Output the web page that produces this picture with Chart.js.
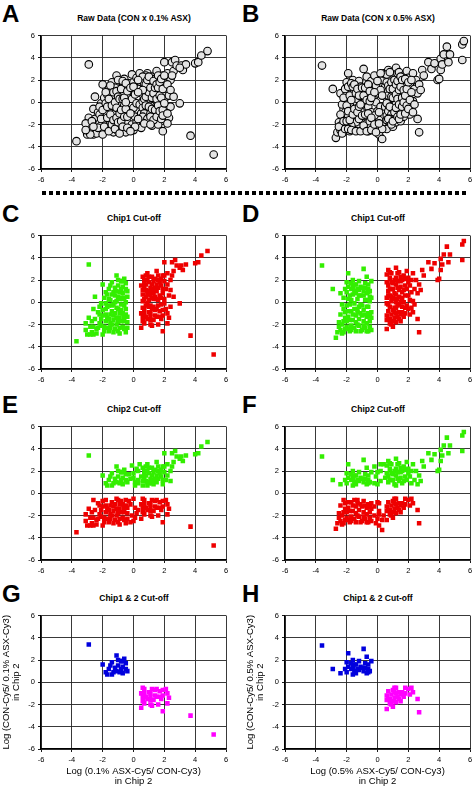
<!DOCTYPE html>
<html><head><meta charset="utf-8">
<script src="https://cdn.jsdelivr.net/npm/chart.js@4"></script>
<style>
body{margin:0;background:#fff;width:474px;height:787px;position:relative;overflow:hidden;font-family:"Liberation Sans",Arial,sans-serif}
.p{position:absolute}
.lt{position:absolute;font-weight:bold;font-size:24px;line-height:24px}
.tt{position:absolute;font-weight:bold;font-size:8.5px;width:200px;text-align:center}
.dots{position:absolute;left:42px;top:191px;width:425px;height:4px;background:repeating-linear-gradient(90deg,#000 0 4px,transparent 4px 7px)}
</style></head><body>
<div class="dots"></div>
<script>
// Panel A dataset (CON x 0.1% ASX), [x, y] pairs
const rawA = [
[-3.0,-2.9],[-2.9,-1.4],[-2.8,-2.2],[-3.1,-1.9],[-2.7,-2.7],
[-2.6,-0.6],[-2.5,-1.5],[-2.4,-2.4],[-2.6,-2.9],[-2.3,-0.9],[-2.5,0.5],[-2.2,-1.9],[-2.4,-2.8],
[-2.1,-0.1],[-2.0,-1.2],[-1.9,-2.6],[-2.0,1.6],[-1.8,-0.6],[-2.1,-2.1],[-1.9,0.4],[-1.8,-1.7],[-2.0,-2.9],
[-1.6,1.2],[-1.5,0.2],[-1.4,-0.8],[-1.6,-1.5],[-1.5,-2.3],[-1.4,1.8],[-1.3,-2.7],[-1.6,-0.3],[-1.4,0.7],[-1.3,-1.2],[-1.5,-1.9],
[-1.1,2.4],[-1.0,1.5],[-0.9,0.9],[-1.1,0.1],[-1.0,-0.6],[-0.9,-1.4],[-1.1,-2.0],[-1.0,-2.6],[-0.8,1.9],[-0.8,-0.2],[-1.2,-1.0],[-0.9,-2.3],
[-1.2,0.6],[-0.7,-1.0],[-1.3,-0.2],[-0.8,0.4],[-1.7,0.7],[-1.8,-1.1],[-1.2,1.3],[-0.7,1.4],[-0.6,-1.7],[-1.7,-2.3],[-2.2,-1.1],[-2.7,-1.7],
[-0.6,2.1],[-0.5,1.2],[-0.4,0.5],[-0.6,-0.3],[-0.5,-1.1],[-0.4,-1.8],[-0.6,-2.4],[-0.3,1.7],[-0.3,-0.7],[-0.5,-2.7],[-0.7,0.8],
[-0.1,2.5],[0.0,1.8],[0.1,1.0],[-0.1,0.3],[0.0,-0.5],[0.1,-1.3],[-0.1,-2.0],[0.0,-2.5],[0.2,2.2],[0.2,-0.1],[0.2,-1.8],
[0.4,2.6],[0.5,1.5],[0.6,0.7],[0.4,-0.2],[0.5,-1.0],[0.6,-1.7],[0.5,-2.3],[0.7,2.0],[0.7,-0.6],[0.3,1.2],[0.8,1.1],[0.8,-1.3],
[0.9,2.6],[1.0,1.8],[1.1,0.6],[0.9,-0.1],[1.0,-0.9],[1.1,-1.6],[1.2,-2.1],[1.2,2.3],[1.3,1.2],[1.3,-0.4],[1.0,0.2],[1.4,-1.2],
[0.6,0.1],[0.7,1.4],[0.9,0.7],[1.2,1.6],[1.1,-0.3],[0.6,-0.5],[1.2,0.9],[0.8,2.4],[1.4,2.1],[1.3,0.3],[0.7,-1.0],[1.1,-1.0],
[1.5,2.8],[1.6,2.0],[1.5,1.0],[1.6,0.2],[1.5,-0.6],[1.7,-1.3],[1.6,-2.0],[1.8,1.5],[1.8,-0.2],[1.4,0.5],[1.9,2.4],[1.9,0.8],
[2.0,3.6],[2.0,1.9],[2.1,1.2],[2.0,0.3],[2.1,-0.6],[1.9,-2.6],[2.2,2.6],[2.3,-1.4],[2.2,-1.9],[2.4,-0.4],[2.3,0.6],[2.4,2.0],
[2.5,3.6],[2.6,2.8],[2.7,3.8],[2.6,0.5],[2.8,3.3],[3.0,-0.1],[3.1,3.3],[3.2,2.9],[3.4,3.4],[3.0,3.1],
[-2.9,3.4],[-3.7,-3.5],[3.7,-3.0],[4.0,3.5],[4.2,3.6],[4.4,4.2],[4.8,4.6],[5.2,-4.7],
[-2.3,-2.3],[-2.2,-0.4],[-2.1,-1.5],[-2.0,-0.7],[-1.9,-2.2],[-1.8,-0.1],[-1.8,0.9],[-1.7,-1.4],[-1.7,-0.4],[-1.6,-2.6],[-1.6,0.3],
[-1.5,-1.1],[-1.5,1.5],[-1.4,-2.0],[-1.4,-0.3],[-1.3,0.9],[-1.3,-1.6],[-1.2,-2.4],[-1.2,0.0],[-1.1,-0.5],[-1.1,-1.4],[-1.1,1.0],
[-1.0,0.5],[-1.0,-1.8],[-1.0,2.0],[-0.9,-1.0],[-0.9,0.3],[-0.9,-2.8],[-0.8,-1.7],[-0.8,1.2],[-0.8,-0.7],[-0.7,-2.2],[-0.7,0.3],
[-0.7,1.9],[-0.6,-1.3],[-0.6,0.4],[-0.5,1.7],[-0.5,-0.6],[-0.5,0.0],[-0.4,-2.3],[-0.4,1.0],[-0.4,-1.3],
[0.6,2.3],[0.6,-1.3],[0.7,0.3],[0.7,1.7],[0.8,-0.3],[0.8,0.5],[0.8,1.6],[0.9,-1.5],[0.9,1.0],[0.9,2.0],[1.0,-0.4],[1.0,0.9],
[1.0,2.3],[1.1,1.3],[1.1,-1.3],[1.2,-0.6],[1.2,0.4],[1.3,-1.6],[1.3,0.8],[1.3,1.9],[1.4,-0.7],[1.4,1.3],[1.5,-1.3],[1.5,0.3],
[1.5,1.6],[1.6,-0.3],[1.6,1.3],[1.6,2.4],[1.7,-0.8],[1.7,0.6],[1.7,1.8],[1.8,-1.5],[1.8,0.4],[1.8,2.1],[1.9,-0.7],[1.9,1.2],
[1.9,-1.2],[2.0,2.4],[2.0,-0.1],[0.6,1.1],[0.7,-1.9],[1.1,-2.0],
[-0.2,1.3],[0.1,0.7],[0.3,-1.5],[0.0,1.4],[-0.2,-1.0],[0.3,2.0],[0.1,-2.2],[0.3,0.9],[-0.2,-2.6],[2.2,1.6],[2.4,1.1],[2.5,2.4],
[2.2,-1.0],[-2.6,-2.2],[-2.8,-2.9],[-3.1,-2.5]
];
// Panel B dataset (CON x 0.5% ASX)
const rawB = [
[-2.7,-3.2],[-2.6,-2.7],[-2.5,-1.8],[-2.4,-2.5],
[-2.2,-0.6],[-2.1,-1.4],[-2.0,-2.2],[-2.2,-2.7],[-1.9,2.6],[-2.0,1.8],[-1.9,0.3],[-2.3,-2.0],[-2.4,0.8],[-2.0,0.9],[-2.1,-0.9],
[-1.7,1.2],[-1.6,0.7],[-1.5,-0.1],[-1.7,-0.8],[-1.6,-1.6],[-1.5,-2.3],[-1.8,-2.6],[-1.4,1.6],[-1.4,-1.2],[-1.3,0.3],[-1.6,2.0],[-1.3,-2.0],
[-1.2,1.1],[-1.1,0.6],[-1.0,-0.3],[-1.1,-1.0],[-0.9,-1.7],[-1.0,-2.5],[-0.9,3.0],[-0.8,1.7],[-1.2,1.9],[-0.8,0.2],[-0.9,-0.7],[-1.2,-2.1],[-0.8,-2.3],
[-1.8,-0.2],[-1.3,-0.6],[-0.7,-1.3],[-1.1,1.4],[-0.6,0.9],[-1.4,-1.8],[-1.9,-1.3],[-0.9,1.0],[-1.5,1.0],[-1.2,-1.5],[-0.7,-0.4],[-1.7,-2.1],
[-0.7,2.3],[-0.6,1.2],[-0.5,0.5],[-0.6,-0.4],[-0.5,-1.2],[-0.7,-1.9],[-0.6,-2.6],[-0.4,1.9],[-0.4,-0.9],[-0.5,-2.2],[-0.7,0.8],
[-0.2,2.4],[-0.1,1.5],[0.0,0.8],[-0.1,0.0],[0.0,-0.8],[0.1,-1.6],[0.0,-2.3],[0.1,-2.9],[0.2,2.0],[0.2,-0.4],[-0.2,-1.2],[0.3,-3.3],
[0.4,2.6],[0.5,1.4],[0.6,0.4],[0.5,-0.4],[0.6,-1.2],[0.4,-2.0],[0.7,2.9],[0.7,1.0],[0.7,-0.8],[0.8,-1.9],[0.8,2.2],[0.6,-2.4],
[0.9,2.6],[1.0,1.7],[1.1,0.8],[0.9,0.1],[1.0,-0.7],[1.1,-1.4],[1.0,-2.2],[1.2,3.1],[1.2,2.2],[1.3,1.3],[1.3,-0.3],[1.2,-1.8],[0.9,-1.1],
[0.6,1.8],[0.8,0.6],[0.7,-0.2],[1.1,0.3],[1.2,-1.0],[0.8,-1.5],[1.4,-0.9],[0.9,1.2],[1.3,2.6],[1.1,-0.5],[0.6,-1.6],[1.2,0.0],
[1.4,2.7],[1.5,1.9],[1.6,0.9],[1.5,0.0],[1.6,-0.9],[1.5,-1.7],[1.7,2.4],[1.8,1.5],[1.8,-0.5],[1.7,-1.3],[1.4,0.5],[1.9,2.8],
[2.0,2.2],[2.1,1.5],[2.0,0.6],[2.2,-0.5],[2.1,-1.1],[2.3,2.6],[2.4,1.2],[2.3,0.1],[2.5,2.0],[2.6,0.8],
[2.6,-1.5],[2.7,-2.7],[2.7,1.6],[2.9,2.9],[3.0,2.4],[3.3,3.6],[3.5,3.0],[3.7,3.5],[3.9,2.0],[4.0,2.1],[4.1,2.9],[4.1,3.9],
[4.3,4.3],[4.2,3.4],[4.5,5.0],[4.6,3.6],[4.7,4.3],[5.5,5.2],[5.6,5.5],[5.5,3.8],[2.8,1.1],
[-3.6,3.3],[-2.9,1.2],
[-2.5,-2.2],[-2.4,-1.1],[-2.3,-2.8],[-2.3,-0.2],[-2.2,-1.7],[-2.2,0.4],[-2.1,-2.4],[-2.1,1.2],[-2.0,-0.3],[-2.0,-1.7],[-1.9,-2.4],
[-1.9,-0.8],[-1.9,1.4],[-1.8,0.6],[-1.8,-1.6],[-1.7,0.2],[-1.7,-2.5],[-1.7,1.7],[-1.6,-1.1],[-1.6,1.4],[-1.5,-0.6],[-1.5,1.6],
[-1.4,-2.6],[-1.4,0.8],[-1.3,-0.9],[-1.3,1.2],[-1.2,-0.4],[-1.2,0.6],[-1.1,-2.6],[-1.1,-0.2],[-1.0,1.3],[-1.0,-1.2],[-0.9,0.6],
[-0.9,-2.1],[-0.8,-1.1],[-0.8,1.3],[-0.7,-2.6],[-0.7,0.2],[-0.6,-1.0],[-0.6,1.6],[-0.5,-1.7],[-0.5,0.1],[-0.5,1.0],[-0.4,-2.5],
[-0.4,0.4],[-0.4,-1.4],
[0.6,2.5],[0.6,-0.1],[0.7,1.5],[0.7,-1.5],[0.7,0.6],[0.8,-0.4],[0.8,1.2],[0.8,2.7],[0.9,0.5],[0.9,-2.0],[0.9,1.8],[1.0,1.2],
[1.0,-1.7],[1.0,0.4],[1.1,2.0],[1.1,-0.9],[1.2,1.6],[1.2,-0.5],[1.2,0.7],[1.3,-1.3],[1.3,0.3],[1.3,1.9],[1.4,-1.5],[1.4,1.1],
[1.4,-0.2],[1.5,2.3],[1.5,-1.1],[1.5,1.4],[1.6,0.4],[1.6,-0.4],[1.6,2.0],[1.7,0.0],[1.7,1.1],[1.8,-1.0],[1.8,0.6],[1.8,2.1],
[1.9,-0.3],[1.9,1.2],[2.0,-0.6],[2.0,1.8],[2.2,0.9],[2.1,0.2],[2.3,-0.9],[2.4,-0.2],[2.2,2.0],
[0.0,1.9],[-0.2,-2.0],[0.2,1.1],[0.1,-0.9],[-0.2,0.9],[0.3,-2.4],[0.2,2.6],[-0.1,-2.7],[0.3,0.6],[0.1,-1.9]
];
const axisTicks = [-6,-4,-2,0,2,4,6];
const titles = {A:"Raw Data (CON x 0.1% ASX)",B:"Raw Data (CON x 0.5% ASX)",C:"Chip1 Cut-off",D:"Chip1 Cut-off",E:"Chip2 Cut-off",F:"Chip2 Cut-off",G:"Chip1 & 2 Cut-off",H:"Chip1 & 2 Cut-off"};
const xTitleG = ["Log (0.1% ASX-Cy5/ CON-Cy3)","in Chip 2"];
const yTitleG = ["Log (CON-Cy5/ 0.1% ASX-Cy3)","in Chip 2"];
const xTitleH = ["Log (0.5% ASX-Cy5/ CON-Cy3)","in Chip 2"];
const yTitleH = ["Log (CON-Cy5/ 0.5% ASX-Cy3)","in Chip 2"];

const C_GREEN="#33ee00", C_RED="#ee0000", C_BLUE="#0000dd", C_MAG="#ff00ff";
const pts = a => a.map(p=>({x:p[0],y:p[1]}));
const f = (a,fn)=>pts(a.filter(fn));

function panel(letter,left,top,col,datasets,xt,yt){
  const hasT = !!xt;
  const yw = hasT?40:22, xh = hasT?38:16;
  const plotL = col===0?41:285;
  const cl = plotL-yw, W = yw+185+8, H = 5+136+xh;
  const d=document.createElement('div');d.className='p';
  d.style.cssText=`left:${cl}px;top:${top-5}px;width:${W}px;height:${H}px`;
  const c=document.createElement('canvas');d.appendChild(c);document.body.appendChild(d);
  const L=document.createElement('div');L.className='lt';L.textContent=letter;
  L.style.left=(col===0?2:242)+'px';L.style.top=(top-31)+'px';document.body.appendChild(L);
  const T=document.createElement('div');T.className='tt';T.textContent=titles[letter];
  T.style.left=(plotL-7)+'px';T.style.top=(top-20)+'px';document.body.appendChild(T);
  const tk={color:'#000',font:{size:7.5,family:'Liberation Sans'},padding:3};
  const sc=(w,axis)=>({type:'linear',min:-6,max:6,
    afterBuildTicks:s=>{s.ticks=axisTicks.map(v=>({value:v}))},
    afterFit:s=>{if(axis==='y')s.width=yw;else s.height=xh;},
    grid:{color:'#222',lineWidth:0.9,drawTicks:true,tickLength:3,tickColor:'#000'},
    border:{color:'#000',width:1.3},ticks:tk,
    title:w?{display:true,text:w,color:'#000',font:{size:9.5,family:'Liberation Sans',lineHeight:1.1},padding:{top:0,bottom:0}}:{display:false}});
  new Chart(c,{type:'scatter',data:{datasets},
    options:{responsive:true,maintainAspectRatio:false,animation:false,
      layout:{padding:{top:5,right:8,left:0,bottom:0}},
      plugins:{legend:{display:false},tooltip:{enabled:false}},
      scales:{x:sc(xt,'x'),y:sc(yt,'y')}}});
}
const raw = a=>[{data:pts(a),pointRadius:3.8,backgroundColor:'#e4e4e4',borderColor:'#000',borderWidth:1.1}];
const dot = (data,color)=>({data,pointRadius:3.2,pointStyle:'rect',backgroundColor:color,borderWidth:0});

panel('A',0,33,0,raw(rawA));
panel('B',0,33,1,raw(rawB));
panel('C',0,233,0,[dot(f(rawA,p=>p[0]<-0.35),C_GREEN),dot(f(rawA,p=>p[0]>0.45),C_RED)]);
panel('D',0,233,1,[dot(f(rawB,p=>p[0]<-0.35),C_GREEN),dot(f(rawB,p=>p[0]>0.55),C_RED)]);
panel('E',0,424,0,[dot(f(rawA,p=>p[1]>0.6),C_GREEN),dot(f(rawA,p=>p[1]<-0.4),C_RED)]);
panel('F',0,424,1,[dot(f(rawB,p=>p[1]>0.6),C_GREEN),dot(f(rawB,p=>p[1]<-0.4),C_RED)]);
panel('G',0,613,0,[dot(f(rawA,p=>p[0]<-0.35&&p[1]>0.6),C_BLUE),dot(f(rawA,p=>p[0]>0.45&&p[1]<-0.4),C_MAG)],xTitleG,yTitleG);
panel('H',0,613,1,[dot(f(rawB,p=>p[0]<-0.35&&p[1]>0.6),C_BLUE),dot(f(rawB,p=>p[0]>0.55&&p[1]<-0.4),C_MAG)],xTitleH,yTitleH);
</script>
</body></html>
